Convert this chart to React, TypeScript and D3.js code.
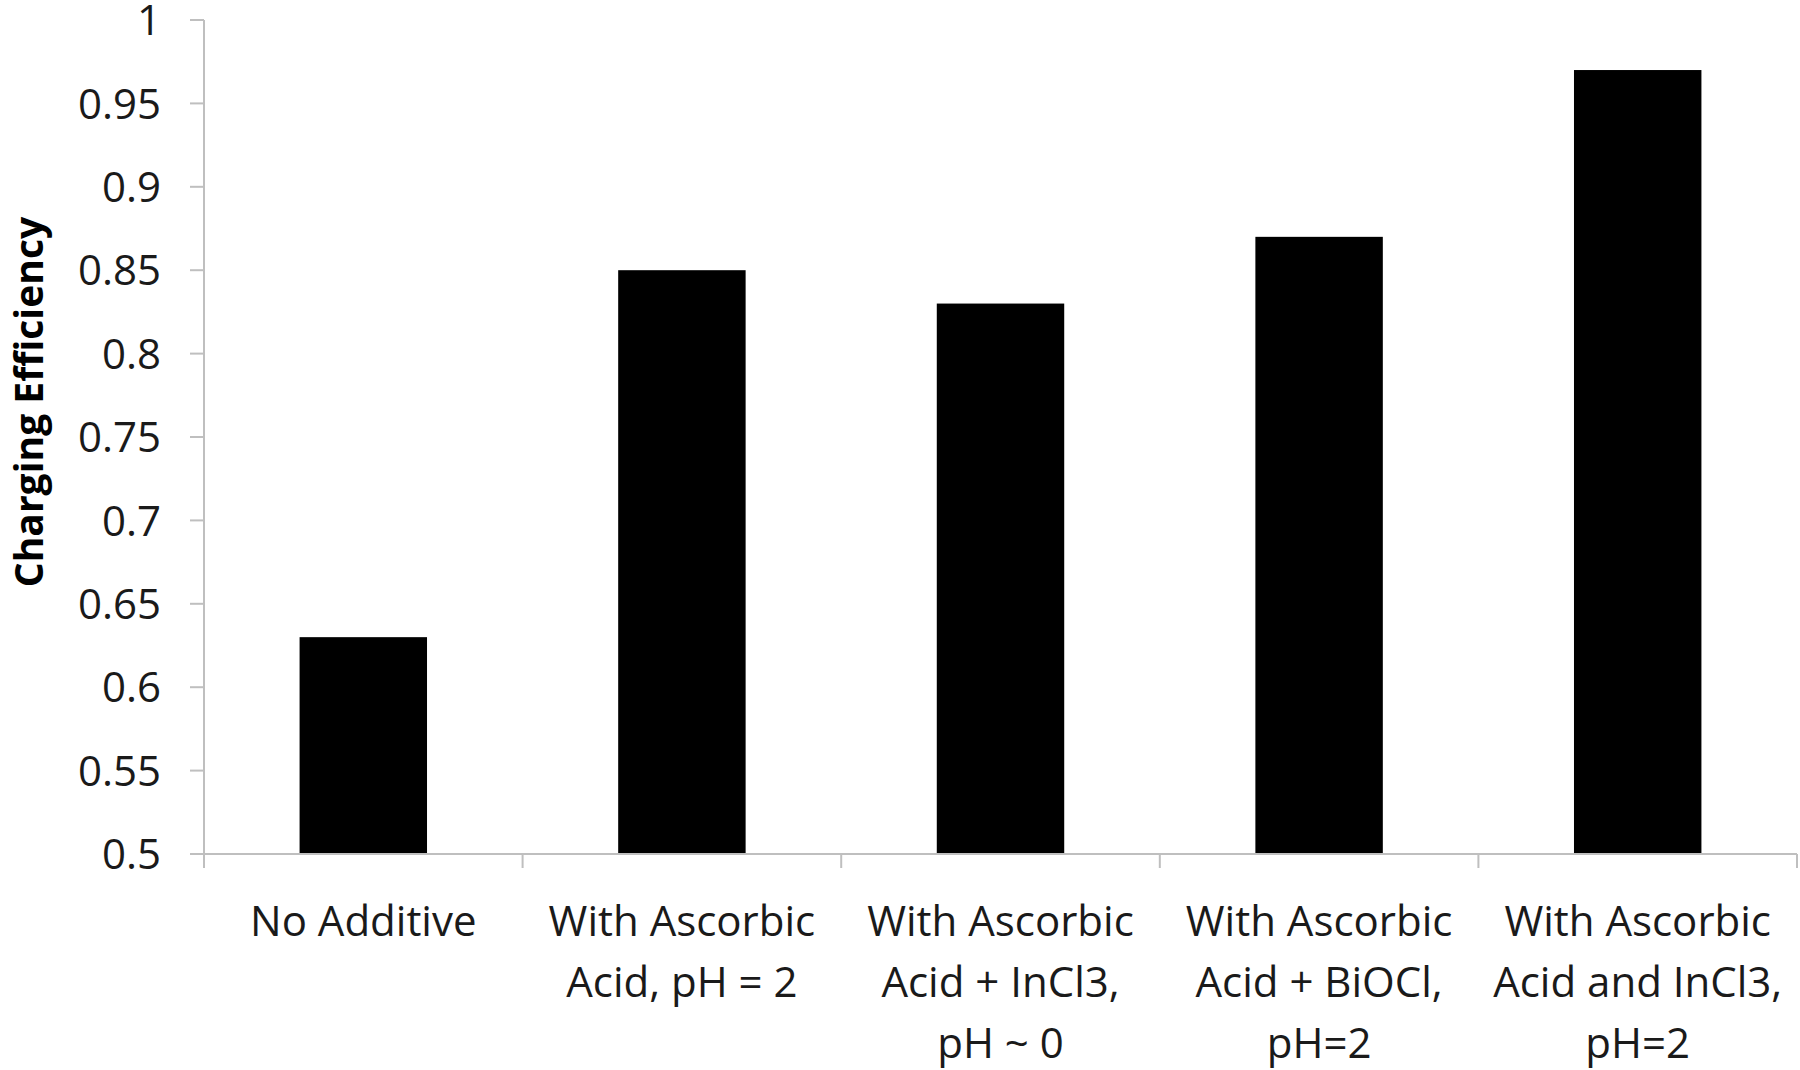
import React from "react";
import * as d3 from "d3";

const categories: string[][] = [
  ["No Additive"],
  ["With Ascorbic", "Acid, pH = 2"],
  ["With Ascorbic", "Acid + InCl3,", "pH ~ 0"],
  ["With Ascorbic", "Acid + BiOCl,", "pH=2"],
  ["With Ascorbic", "Acid and InCl3,", "pH=2"],
];
const values: number[] = [0.63, 0.85, 0.83, 0.87, 0.97];
const yTicks: number[] = [0.5, 0.55, 0.6, 0.65, 0.7, 0.75, 0.8, 0.85, 0.9, 0.95, 1];

const width = 1800;
const height = 1070;
const left = 204;
const right = 1797;
const top = 20;
const bottom = 854;
const font = "'Open Sans', 'Liberation Sans', sans-serif";
const axisColor = "#bfbfbf";
const textColor = "#1a1a1a";

const App = () => {
  const ids = categories.map((_, i) => String(i));

  // bars: Excel-style gap width (~150%)
  const x = d3.scaleBand().domain(ids).range([left, right]).paddingInner(0.6).paddingOuter(0.3);
  const band = d3.scaleBand().domain(ids).range([left, right]);
  const y = d3.scaleLinear().domain([0.5, 1]).range([bottom, top]);

  const fmt = (d: number) => String(+d.toFixed(2));

  return (
    <svg width={width} height={height} style={{ position: "absolute", left: 0, top: 0, background: "#fff" }}>
      {/* bars */}
      {values.map((v, i) => (
        <rect key={i} x={x(String(i))} y={y(v)} width={x.bandwidth()} height={y(0.5) - y(v)} fill="#000" />
      ))}

      {/* y axis */}
      <line x1={left} x2={left} y1={y(1)} y2={y(0.5)} stroke={axisColor} strokeWidth={2} />
      {yTicks.map((t) => (
        <g key={t}>
          <line x1={left - 14} x2={left} y1={y(t)} y2={y(t)} stroke={axisColor} strokeWidth={2} />
          <text x={161} y={y(t)} dy="0.36em" textAnchor="end" fontFamily={font} fontSize={42} fill={textColor}>
            {fmt(t)}
          </text>
        </g>
      ))}

      {/* x axis */}
      <line x1={left} x2={right} y1={bottom} y2={bottom} stroke={axisColor} strokeWidth={2} />
      {ids.map((id) => (
        <line key={id} x1={band(id)!} x2={band(id)!} y1={bottom} y2={bottom + 14} stroke={axisColor} strokeWidth={2} />
      ))}
      <line x1={right} x2={right} y1={bottom} y2={bottom + 14} stroke={axisColor} strokeWidth={2} />

      {categories.map((lines, i) => (
        <text
          key={i}
          x={band(String(i))! + band.bandwidth() / 2}
          textAnchor="middle"
          fontFamily={font}
          fontSize={42}
          fill={textColor}
        >
          {lines.map((l, j) => (
            <tspan key={j} x={band(String(i))! + band.bandwidth() / 2} y={921 + j * 61} dy="0.36em">
              {l}
            </tspan>
          ))}
        </text>
      ))}

      {/* y axis title */}
      <text
        transform={`translate(29, ${(top + bottom) / 2 - 35}) rotate(-90)`}
        textAnchor="middle"
        dy="0.35em"
        fontFamily={font}
        fontWeight="bold"
        fontSize={39}
        fill="#000"
      >
        Charging Efficiency
      </text>
    </svg>
  );
};

export default App;
